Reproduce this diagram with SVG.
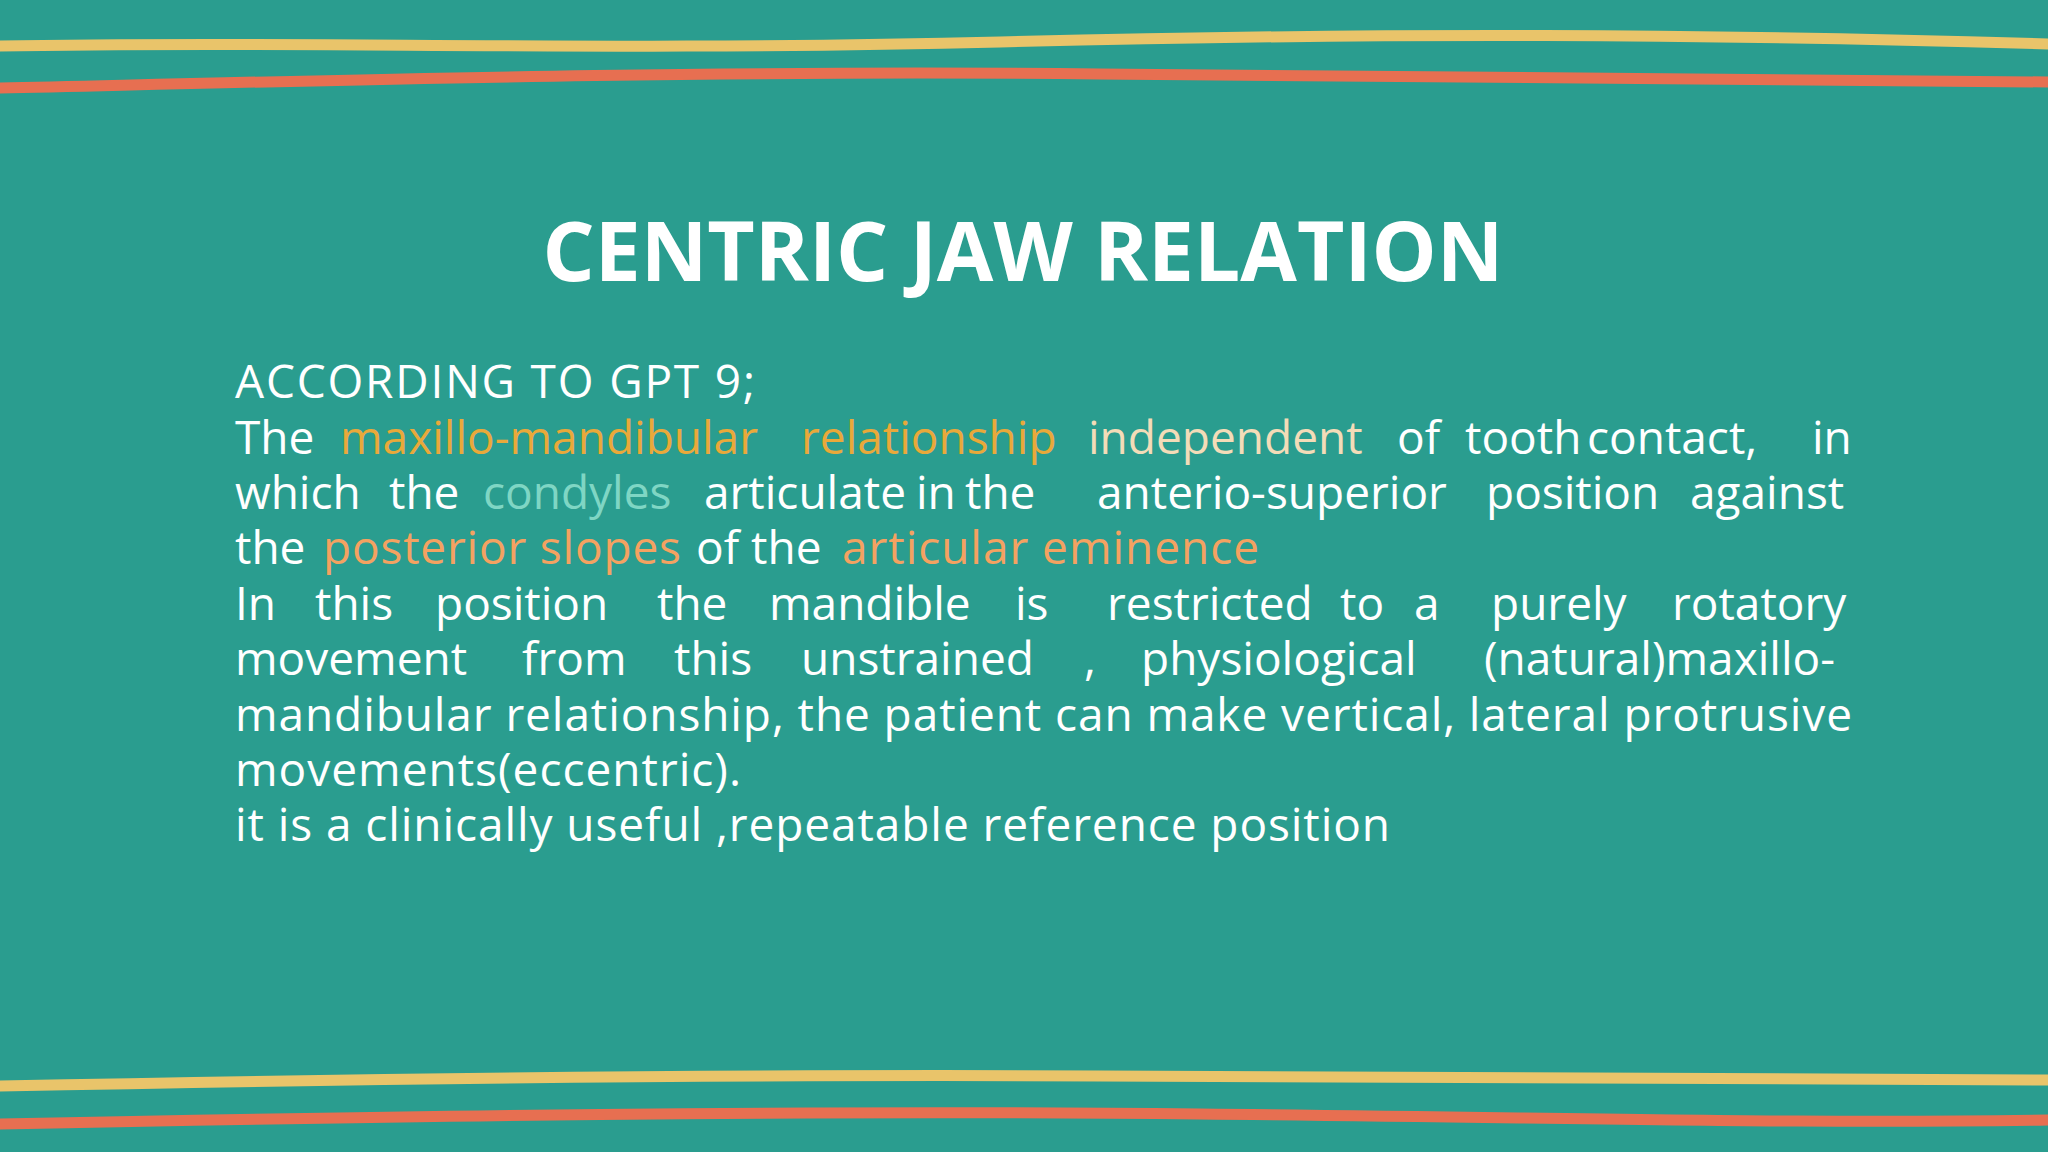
<svg xmlns="http://www.w3.org/2000/svg" width="2048" height="1152" viewBox="0 0 2048 1152">
<style>
.w{fill:none;stroke-width:11;stroke-linecap:round}
.y{stroke:#e9c46a}.r{stroke:#e76f51}
.b{font-family:"Open Sans","Noto Sans",sans-serif;font-size:46px;fill:#ffffff}
.gold{fill:#e9a93a}.beige{fill:#f3dcb8}.teal{fill:#7fd6c4}.ora{fill:#f4a261}
</style>
<rect width="2048" height="1152" fill="#2a9d8f"/>
<g id="waves">
<path class="w y" d="M0 46 C300 40 600 52 1000 42 S1700 34 2048 44"/>
<path class="w r" d="M0 88 C350 80 700 70 1100 74 S1800 78 2048 82"/>
<path class="w y" d="M0 1086 C300 1080 700 1074 1100 1076 S1800 1080 2048 1080"/>
<path class="w r" d="M0 1124 C400 1116 800 1110 1200 1114 S1800 1124 2048 1120"/>
</g>
<text id="title" x="1023" y="281" text-anchor="middle" font-family="'Open Sans','Noto Sans',sans-serif" font-weight="bold" font-size="82" fill="#ffffff">CENTRIC JAW RELATION</text>
<g id="body" class="b">
<text x="235" y="398" textLength="520" lengthAdjust="spacing">ACCORDING TO GPT 9;</text>
<text y="454"><tspan x="235">The</tspan><tspan x="340" class="gold">maxillo-mandibular</tspan><tspan x="801" class="gold">relationship</tspan><tspan x="1088" class="beige">independent</tspan><tspan x="1397">of</tspan><tspan x="1465">tooth</tspan><tspan x="1587">contact,</tspan><tspan x="1812">in</tspan></text>
<text y="509"><tspan x="235">which</tspan><tspan x="389">the</tspan><tspan x="483" class="teal">condyles</tspan><tspan x="704">articulate</tspan><tspan x="916">in</tspan><tspan x="965">the</tspan><tspan x="1097">anterio-superior</tspan><tspan x="1486">position</tspan><tspan x="1690">against</tspan></text>
<text y="564"><tspan x="235">the</tspan><tspan x="323" class="ora" textLength="358" lengthAdjust="spacing">posterior slopes</tspan><tspan x="696">of the</tspan><tspan x="842" class="ora" textLength="417" lengthAdjust="spacing">articular eminence</tspan></text>
<text y="620"><tspan x="235">In</tspan><tspan x="315">this</tspan><tspan x="435">position</tspan><tspan x="657">the</tspan><tspan x="769">mandible</tspan><tspan x="1015">is</tspan><tspan x="1107">restricted</tspan><tspan x="1340">to</tspan><tspan x="1414">a</tspan><tspan x="1491">purely</tspan><tspan x="1672">rotatory</tspan></text>
<text y="675"><tspan x="235">movement</tspan><tspan x="522">from</tspan><tspan x="674">this</tspan><tspan x="801">unstrained</tspan><tspan x="1084">,</tspan><tspan x="1141">physiological</tspan><tspan x="1484">(natural)maxillo-</tspan></text>
<text x="235" y="731" textLength="1617" lengthAdjust="spacing">mandibular relationship, the patient can make vertical, lateral protrusive</text>
<text x="235" y="786" textLength="506" lengthAdjust="spacing">movements(eccentric).</text>
<text x="235" y="841" textLength="1155" lengthAdjust="spacing">it is a clinically useful ,repeatable reference position</text>
</g>
</svg>
